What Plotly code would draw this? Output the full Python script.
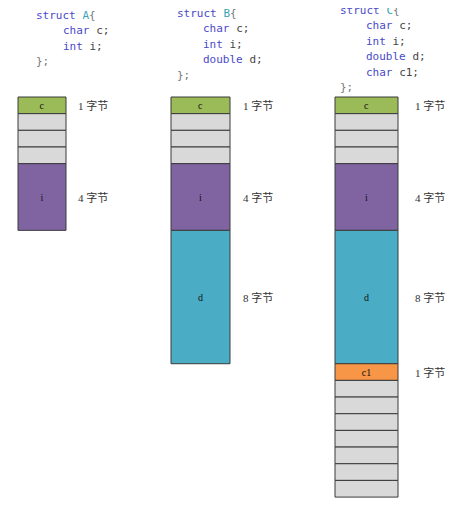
import plotly.graph_objects as go

# memory layout per struct: (label, bytes, kind)
layout_a = [("c", 1, "char"), ("", 1, "pad"), ("", 1, "pad"), ("", 1, "pad"), ("i", 4, "int")]
layout_b = [("c", 1, "char"), ("", 1, "pad"), ("", 1, "pad"), ("", 1, "pad"), ("i", 4, "int"), ("d", 8, "double")]
layout_c = ([("c", 1, "char"), ("", 1, "pad"), ("", 1, "pad"), ("", 1, "pad"), ("i", 4, "int"),
             ("d", 8, "double"), ("c1", 1, "char1")] + [("", 1, "pad")] * 7)
size_notes_a = [("1 字节", 0.5), ("4 字节", 6)]
size_notes_b = [("1 字节", 0.5), ("4 字节", 6), ("8 字节", 12)]
size_notes_c = [("1 字节", 0.5), ("4 字节", 6), ("8 字节", 12), ("1 字节", 16.5)]
code_a = ["struct A{", "char c;", "int i;", "};"]
code_b = ["struct B{", "char c;", "int i;", "double d;", "};"]
code_c = ["struct C{", "char c;", "int i;", "double d;", "char c1;", "};"]

colors = {"char": "#9bbb59", "pad": "#d9d9d9", "int": "#8064a2", "double": "#4bacc6", "char1": "#f79646"}

PX = 16.67   # pixels per byte
TOP = 97     # pixel of byte 0
SHIFT = 8    # page body margin
def py(p):
    return (p - TOP) / PX

columns = [
    (layout_a, size_notes_a, code_a, 42, 48, 76, 34, 61, 15),
    (layout_b, size_notes_b, code_b, 200.5, 59, 241, 175, 201, 13),
    (layout_c, size_notes_c, code_c, 366.5, 63, 413, 338, 364, 10),
]

fig = go.Figure()
ann = []
for lay, notes, code, cx, w, nx, codex, indentx, codey in columns:
    off = 0
    for label, size, kind in lay:
        fig.add_trace(go.Bar(x=[cx], y=[size], base=[off], width=[w],
                             marker=dict(color=colors[kind], line=dict(color="#3a3a3a", width=1)),
                             text=[label], textposition="inside", insidetextanchor="middle",
                             textangle=0, constraintext="none",
                             textfont=dict(family="Liberation Serif", size=10, color="#111"),
                             hoverinfo="skip"))
        off += size
    for txt, yb in notes:
        ann.append(dict(x=nx, y=yb, text=txt, showarrow=False, xanchor="left",
                        font=dict(family="Liberation Serif, Noto Sans CJK SC", size=11, color="#333")))
    for k, line in enumerate(code):
        y = py(codey + k * 15.5)
        if k == 0:
            t = ('<span style="color:#4a4ac8">struct</span> <span style="color:#3aa5b5">'
                 + line[7] + '</span><span style="color:#777">{</span>')
            x = codex
        elif line == "};":
            t = '<span style="color:#777">};</span>'
            x = codex
        else:
            typ, name = line.split(" ")
            t = '<span style="color:#4a4ac8">' + typ + '</span> <span style="color:#444">' + name + '</span>'
            x = indentx
        ann.append(dict(x=x, y=y, text=t, showarrow=False, xanchor="left",
                        font=dict(family="DejaVu Sans Mono", size=11)))

fig.update_layout(
    width=474, height=506, margin=dict(l=0, r=0, t=0, b=0),
    plot_bgcolor="white", paper_bgcolor="white", showlegend=False,
    barmode="overlay", annotations=ann,
    xaxis=dict(range=[SHIFT, 474 + SHIFT], visible=False),
    yaxis=dict(range=[py(506 + SHIFT), py(SHIFT)], visible=False),
)
fig.write_html("out.html")
